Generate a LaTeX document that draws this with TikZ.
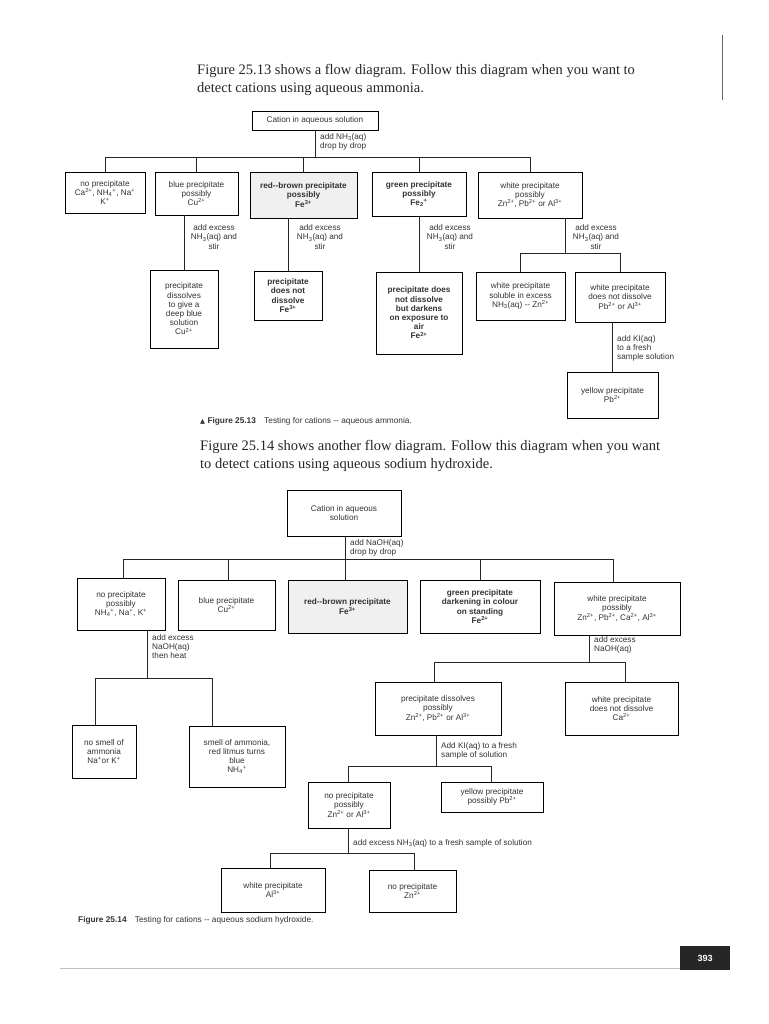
\documentclass[tikz,border=0pt]{standalone}
\usepackage{fontspec}
\setmainfont{Liberation Serif}
\newfontfamily\dfont{Liberation Sans}
\newfontfamily\djv{DejaVu Sans}
\newcommand\sps[1]{\textsuperscript{#1}}
\newcommand\sbs[1]{\textsubscript{#1}}
\newcommand\dsz{\fontsize{8.2}{9.2}\selectfont}
\begin{document}
\begin{tikzpicture}[x=1pt,y=-1pt,
  ln/.style={line width=0.7pt,black!85},
  lab/.style={font=\dfont\dsz,inner sep=0,align=center,text=black!80},
  labl/.style={lab,align=left,anchor=north west},
  bb/.style={font=\dfont\bfseries\dsz},
  hd/.style={font=\fontsize{14.5}{18}\selectfont,anchor=north west,inner sep=0,align=left,text=black!85}]
\newcommand\bx[7][]{\node[draw,line width=0.7pt,inner sep=0,align=center,
  font=\dfont\dsz,text=black!80,
  minimum width={#5-#3},minimum height={#6-#4},#1] (#2) at ({(#3+#5)/2},{(#4+#6)/2}) {#7};}
\useasboundingbox (0,0) rectangle (768,1024);
\fill[white] (0,0) rectangle (768,1024);
\draw[black!60,line width=0.6pt] (722,35) -- (722,100);
\foreach \x in {95,123,212,228,270,348,414,434,491,613,625} \coordinate (x\x) at (\x,0);
% headers
\node[hd] (h1) at (197,64) {Figure 25.13 shows a flow diagram. Follow this diagram when you want to\\detect cations using aqueous ammonia.};
\node[hd] (h2) at (200,440) {Figure 25.14 shows another flow diagram. Follow this diagram when you want\\to detect cations using aqueous sodium hydroxide.};
% ===== top diagram
\bx{r1}{252}{111}{378}{130}{Cation in aqueous solution}
\node[labl] (l1) at (320,133) {add NH\sbs{3}(aq)\\drop by drop};
\coordinate (b1) at (315,157);
\draw[ln] (r1.south -| b1) -- (b1);
\bx{a1}{65}{172}{145}{213}{no precipitate\\Ca\sps{2+}, NH\sbs{4}\sps{+}, Na\sps{+}\\K\sps{+}}
\bx{a2}{155}{172}{238}{215}{blue precipitate\\possibly\\Cu\sps{2+}}
\bx[fill=black!6,bb]{a3}{250}{172}{357}{218}{red--brown precipitate\\possibly\\Fe\sps{3+}}
\bx[bb]{a4}{372}{172}{466}{216}{green precipitate\\possibly\\Fe\sbs{2}\sps{+}}
\bx{a5}{478}{172}{582}{218}{white precipitate\\possibly\\Zn\sps{2+}, Pb\sps{2+} or Al\sps{3+}}
\draw[ln] (a1.north) |- (a5.north |- b1) -- (a5.north);
\foreach \n in {a2,a3,a4} \draw[ln] (\n.north) -- (\n.north |- b1);
\bx{c2}{150}{270}{218}{348}{precipitate\\dissolves\\to give a\\deep blue\\solution\\Cu\sps{2+}}
\bx[bb]{c3}{254}{271}{322}{320}{precipitate\\does not\\dissolve\\Fe\sps{3+}}
\bx[bb]{c4}{376}{272}{462}{354}{precipitate does\\not dissolve\\but darkens\\on exposure to\\air\\Fe\sps{2+}}
\draw[ln] (a2.south -| c2) -- (c2.north);
\draw[ln] (a3.south -| c3) -- (c3.north);
\draw[ln] (a4.south -| c4) -- (c4.north);
\node[lab] (l2) at (214,237) {add excess\\NH\sbs{3}(aq) and\\stir};
\node[lab] (l3) at (320,237) {add excess\\NH\sbs{3}(aq) and\\stir};
\node[lab] (l4) at (450,237) {add excess\\NH\sbs{3}(aq) and\\stir};
\node[lab] (l5) at (596,237) {add excess\\NH\sbs{3}(aq) and\\stir};
\bx{e1}{476}{272}{565}{320}{white precipitate\\soluble in excess\\NH\sbs{3}(aq) -- Zn\sps{2+}}
\bx{e2}{575}{272}{665}{322}{white precipitate\\does not dissolve\\Pb\sps{2+} or Al\sps{3+}}
\coordinate (b2) at (565,253);
\draw[ln] (a5.south -| b2) -- (b2);
\draw[ln] (e1.north) |- (e2.north |- b2) -- (e2.north);
\bx{e3}{567}{372}{658}{418}{yellow precipitate\\Pb\sps{2+}}
\draw[ln] (e2.south -| e3) -- (e3.north);
\node[labl] (l6) at (617,335) {add KI(aq)\\to a fresh\\sample solution};
\node[anchor=west,inner sep=0,font=\dfont\fontsize{8.3}{9}\selectfont,text=black!80] (cap1) at (200,421) {{\djv\fontsize{6.5}{8}\selectfont ▲} \textbf{Figure 25.13}\quad Testing for cations -- aqueous ammonia.};
% ===== bottom diagram
\bx{r2}{287}{490}{401}{536}{Cation in aqueous\\solution}
\coordinate (b3) at (345,559);
\draw[ln] (r2.south -| b3) -- (b3);
\node[labl] (m1) at (350,539) {add NaOH(aq)\\drop by drop};
\bx{n1}{77}{578}{165}{630}{no precipitate\\possibly\\NH\sbs{4}\sps{+}, Na\sps{+}, K\sps{+}}
\bx{n2}{178}{580}{275}{630}{blue precipitate\\Cu\sps{2+}}
\bx[fill=black!6,bb]{n3}{288}{580}{407}{633}{red--brown precipitate\\Fe\sps{3+}}
\bx[bb]{n4}{420}{580}{540}{633}{green precipitate\\darkening in colour\\on standing\\Fe\sps{2+}}
\bx{n5}{554}{582}{680}{635}{white precipitate\\possibly\\Zn\sps{2+}, Pb\sps{2+}, Ca\sps{2+}, Al\sps{3+}}
\draw[ln] (n1.north -| x123) |- (x613 |- b3) -- (n5.north -| x613);
\draw[ln] (n2.north -| x228) -- (x228 |- b3);
\draw[ln] (n3.north -| b3) -- (b3);
\draw[ln] (n4.north) -- (n4.north |- b3);
% left branch
\coordinate (b4) at (147,678);
\draw[ln] (n1.south -| b4) -- (b4);
\node[labl] (m2) at (152,634) {add excess\\NaOH(aq)\\then heat};
\bx{p1}{72}{725}{136}{778}{no smell of\\ammonia\\Na\sps{+}or K\sps{+}}
\bx{p2}{189}{726}{285}{787}{smell of ammonia,\\red litmus turns\\blue\\NH\sbs{4}\sps{+}}
\draw[ln] (p1.north -| x95) |- (x212 |- b4) -- (p2.north -| x212);
% right branch
\coordinate (b5) at (589,662);
\draw[ln] (n5.south -| b5) -- (b5);
\node[labl] (m3) at (594,636) {add excess\\NaOH(aq)};
\bx{q1}{375}{682}{501}{735}{precipitate dissolves\\possibly\\Zn\sps{2+}, Pb\sps{2+} or Al\sps{3+}}
\bx{q2}{565}{682}{678}{735}{white precipitate\\does not dissolve\\Ca\sps{2+}}
\draw[ln] (q1.north -| x434) |- (x625 |- b5) -- (q2.north -| x625);
\coordinate (b6) at (436,766);
\draw[ln] (q1.south -| b6) -- (b6);
\node[labl] (m4) at (441,742) {Add KI(aq) to a fresh\\sample of solution};
\bx{s1}{308}{782}{390}{828}{no precipitate\\possibly\\Zn\sps{2+} or Al\sps{3+}}
\bx{s2}{441}{782}{543}{812}{yellow precipitate\\possibly Pb\sps{2+}}
\draw[ln] (s1.north -| x348) |- (x491 |- b6) -- (s2.north -| x491);
\coordinate (b7) at (348,853);
\draw[ln] (s1.south -| b7) -- (b7);
\node[labl] (m5) at (353,839) {add excess NH\sbs{3}(aq) to a fresh sample of solution};
\bx{t1}{221}{868}{325}{912}{white precipitate\\Al\sps{3+}}
\bx{t2}{369}{870}{456}{912}{no precipitate\\Zn\sps{2+}}
\draw[ln] (t1.north -| x270) |- (x414 |- b7) -- (t2.north -| x414);
\node[anchor=west,inner sep=0,font=\dfont\fontsize{8.3}{9}\selectfont,text=black!80] (cap2) at (78,920) {\textbf{Figure 25.14}\quad Testing for cations -- aqueous sodium hydroxide.};
% page number
\draw[black!25,line width=0.5pt] (60,968) -- (730,968);
\node[fill=black!85,text=white,font=\dfont\bfseries\fontsize{9}{10}\selectfont,minimum width=50,minimum height=24,inner sep=0] (pg) at (705,958) {393};
\end{tikzpicture}
\end{document}
